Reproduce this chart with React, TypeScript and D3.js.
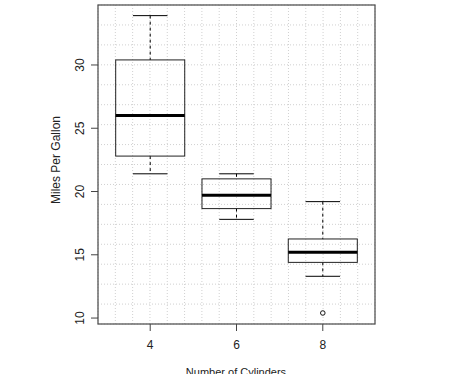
import * as React from "react";
import * as d3 from "d3";

// mtcars mpg by cylinders (five-number summaries)
const cylinders = ["4", "6", "8"];
const whiskerLow = [21.4, 17.8, 13.3];
const q1 = [22.8, 18.65, 14.4];
const median = [26.0, 19.7, 15.2];
const q3 = [30.4, 21.0, 16.25];
const whiskerHigh = [33.9, 21.4, 19.2];
const outliers = [[], [], [10.4]];
const yTicks = [10, 15, 20, 25, 30];

const W = 474;
const H = 374;
const plot = { left: 98, right: 375, top: 5, bottom: 324 };
const font = "'Liberation Sans', Arial, sans-serif";

export default function App() {
  const x = d3.scaleLinear().domain([0.395, 3.605]).range([plot.left, plot.right]);
  const y = d3.scaleLinear().domain([9.53, 34.74]).range([plot.bottom, plot.top]);

  const gridX = d3.range(17).map((i) => plot.left + (i * (plot.right - plot.left)) / 16);
  const gridY = d3.range(17).map((i) => plot.top + (i * (plot.bottom - plot.top)) / 16);

  const boxHalf = x(1.4) - x(1);
  const capHalf = boxHalf / 2;

  return (
    <svg width={W} height={H} style={{ position: "absolute", left: 0, top: 0, background: "#fff" }}>
      <rect width={W} height={H} fill="#fff" />
      {/* grid */}
      <g stroke="#d0d0d0" strokeWidth={1} strokeDasharray="1,2">
        {gridX.map((gx, i) => (
          <line key={"gx" + i} x1={gx} x2={gx} y1={plot.top} y2={plot.bottom} />
        ))}
        {gridY.map((gy, i) => (
          <line key={"gy" + i} x1={plot.left} x2={plot.right} y1={gy} y2={gy} />
        ))}
      </g>

      {/* boxes */}
      {cylinders.map((c, i) => {
        const cx = x(i + 1);
        return (
          <g key={c}>
            <line x1={cx} x2={cx} y1={y(whiskerHigh[i])} y2={y(q3[i])} stroke="#000" strokeDasharray="3,3" />
            <line x1={cx} x2={cx} y1={y(q1[i])} y2={y(whiskerLow[i])} stroke="#000" strokeDasharray="3,3" />
            <line x1={cx - capHalf} x2={cx + capHalf} y1={y(whiskerHigh[i])} y2={y(whiskerHigh[i])} stroke="#000" />
            <line x1={cx - capHalf} x2={cx + capHalf} y1={y(whiskerLow[i])} y2={y(whiskerLow[i])} stroke="#000" />
            <rect x={cx - boxHalf} y={y(q3[i])} width={boxHalf * 2} height={y(q1[i]) - y(q3[i])} fill="none" stroke="#222" />
            <line x1={cx - boxHalf} x2={cx + boxHalf} y1={y(median[i])} y2={y(median[i])} stroke="#000" strokeWidth={3} />
            {outliers[i].map((o, j) => (
              <circle key={j} cx={cx} cy={y(o)} r={2.3} fill="none" stroke="#000" strokeWidth={0.9} />
            ))}
          </g>
        );
      })}

      {/* frame */}
      <rect x={plot.left} y={plot.top} width={plot.right - plot.left} height={plot.bottom - plot.top} fill="none" stroke="#555" strokeWidth={1.3} />

      {/* y axis */}
      <g stroke="#444" fontFamily={font} fontSize={12}>
        {yTicks.map((t) => (
          <g key={t}>
            <line x1={plot.left - 7} x2={plot.left} y1={y(t)} y2={y(t)} />
            <text x={0} y={0} transform={`translate(84,${y(t)}) rotate(-90)`} textAnchor="middle" fill="#222" stroke="none">
              {t}
            </text>
          </g>
        ))}
      </g>

      {/* x axis */}
      <g stroke="#444" fontFamily={font} fontSize={12}>
        {cylinders.map((c, i) => (
          <g key={c}>
            <line x1={x(i + 1)} x2={x(i + 1)} y1={plot.bottom} y2={plot.bottom + 7} />
            <text x={x(i + 1)} y={349} textAnchor="middle" fill="#222" stroke="none">
              {c}
            </text>
          </g>
        ))}
      </g>

      <text transform={`translate(60,160) rotate(-90)`} textAnchor="middle" fontFamily={font} fontSize={12} fill="#222">
        Miles Per Gallon
      </text>
      <text x={236} y={376} textAnchor="middle" fontFamily={font} fontSize={11} fill="#222">
        Number of Cylinders
      </text>
    </svg>
  );
}
